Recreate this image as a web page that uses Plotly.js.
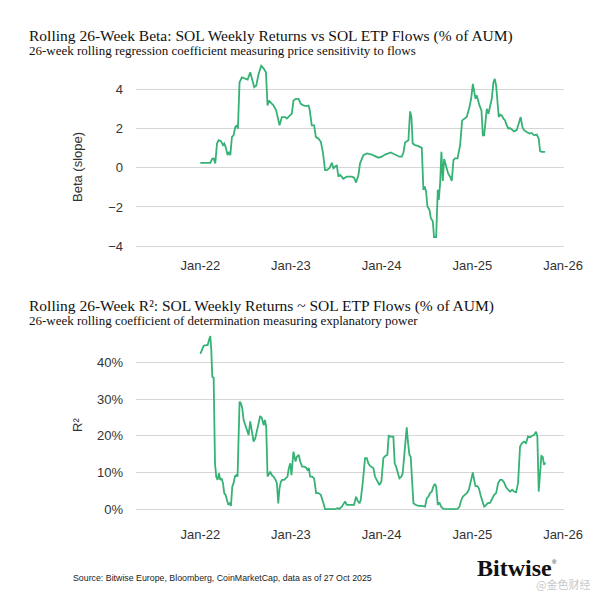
<!DOCTYPE html>
<html>
<head>
<meta charset="utf-8">
<script src="https://cdn.plot.ly/plotly-3.0.1.min.js"></script>
<style>
html,body{margin:0;padding:0;background:#fff;}
#chart{width:600px;height:600px;}
</style>
</head>
<body>
<div id="chart"></div>
<script>
// ---- Data ----
// Rolling 26-week beta: time as decimal year, value = beta (slope)
const betaYear = [2022.000,2022.110,2022.129,2022.147,2022.165,2022.184,2022.202,2022.228,2022.250,2022.264,2022.279,2022.301,2022.316,2022.331,2022.349,2022.367,2022.386,2022.404,2022.415,2022.433,2022.459,2022.496,2022.522,2022.551,2022.569,2022.595,2022.617,2022.643,2022.672,2022.698,2022.724,2022.742,2022.757,2022.771,2022.808,2022.837,2022.863,2022.874,2022.900,2022.937,2022.955,2022.973,2022.992,2023.010,2023.028,2023.054,2023.084,2023.109,2023.139,2023.168,2023.194,2023.205,2023.230,2023.256,2023.275,2023.304,2023.330,2023.352,2023.377,2023.396,2023.425,2023.451,2023.469,2023.491,2023.506,2023.524,2023.543,
2023.579,2023.616,2023.671,2023.697,2023.719,2023.745,2023.763,2023.800,2023.837,2023.892,2023.928,2023.965,2024.002,2024.039,2024.075,2024.101,2024.130,2024.167,2024.197,2024.222,2024.241,2024.259,2024.296,2024.314,2024.329,2024.343,2024.369,2024.406,2024.443,2024.461,2024.476,2024.490,2024.505,2024.527,2024.542,2024.564,2024.578,2024.601,2024.619,2024.630,2024.645,2024.659,2024.674,2024.689,2024.711,2024.733,2024.755,2024.773,2024.792,2024.810,2024.836,2024.865,2024.887,2024.909,2024.938,2024.968,2024.986,2025.005,2025.019,2025.034,2025.049,2025.063,2025.078,2025.100,2025.115,2025.129,2025.144,2025.159,2025.177,2025.196,2025.214,2025.232,2025.247,2025.262,2025.276,2025.291,2025.306,2025.324,2025.343,2025.361,2025.379,2025.398,2025.416,2025.434,2025.460,2025.489,2025.508,2025.533,2025.552,2025.570,2025.600,2025.629,2025.655,2025.680,2025.710,2025.732,2025.747,2025.765,2025.802];
const betaValue = [0.25,0.25,0.44,0.47,0.22,1.23,1.40,1.35,1.15,1.23,1.06,0.64,0.81,0.64,1.57,1.65,2.07,2.16,1.99,4.35,4.60,4.55,4.49,4.86,4.52,4.10,4.18,4.77,5.19,5.06,4.86,3.17,3.42,3.34,3.17,2.92,2.33,2.16,2.58,2.58,2.50,2.58,2.66,2.75,3.42,3.51,3.51,3.25,3.17,3.14,3.17,3.00,2.16,2.16,1.57,1.48,1.32,0.81,-0.12,-0.12,-0.03,0.25,-0.03,0.05,0.13,-0.46,-0.37,
-0.57,-0.46,-0.46,-0.51,-0.76,-0.37,0.22,0.64,0.73,0.67,0.59,0.51,0.56,0.67,0.73,0.78,0.71,0.64,0.56,0.56,0.76,1.28,1.40,2.87,2.58,1.23,1.15,1.10,1.01,-1.13,-0.96,-1.21,-1.97,-2.14,-2.56,-2.73,-3.54,-3.54,-1.13,-1.64,-0.79,0.81,-0.67,0.44,0.05,-0.29,-0.46,-0.67,0.39,0.47,0.47,1.15,2.41,2.50,2.58,3.09,3.51,4.27,3.84,3.51,3.68,3.42,3.17,2.92,1.65,1.65,2.33,3.00,2.75,3.17,3.51,4.35,4.52,4.18,3.17,2.58,2.70,2.66,2.50,2.41,2.16,1.99,2.02,1.96,1.85,1.91,2.24,2.58,2.07,1.91,1.82,1.74,1.77,1.65,1.69,1.48,0.84,0.81,0.81];

// Rolling 26-week R²: time as decimal year, value in percent
const r2Year = [2022.000,2022.022,2022.037,2022.066,2022.081,2022.096,2022.110,2022.121,2022.132,2022.147,2022.154,2022.162,2022.176,2022.191,2022.206,2022.220,2022.235,2022.250,2022.264,2022.279,2022.294,2022.309,2022.323,2022.338,2022.353,2022.367,2022.382,2022.397,2022.411,2022.426,2022.433,2022.448,2022.463,2022.478,2022.496,2022.514,2022.533,2022.551,2022.569,2022.588,2022.606,2022.624,2022.643,2022.661,2022.680,2022.698,2022.713,2022.727,2022.742,2022.757,2022.771,2022.790,2022.808,2022.830,2022.845,2022.860,2022.874,2022.889,2022.904,2022.926,2022.948,2022.962,2022.977,2022.992,2023.006,2023.028,2023.051,2023.065,2023.087,2023.102,2023.124,2023.146,2023.168,2023.183,2023.198,2023.212,2023.234,2023.256,2023.278,2023.304,2023.330,2023.344,2023.359,2023.377,2023.433,2023.488,2023.513,2023.535,2023.561,2023.579,2023.598,2023.616,2023.646,2023.671,2023.697,2023.719,2023.734,2023.756,2023.770,2023.792,2023.818,2023.837,2023.855,2023.873,2023.892,2023.910,2023.928,2023.947,2023.976,
2023.998,2024.020,2024.042,2024.064,2024.079,2024.101,2024.130,2024.145,2024.160,2024.174,2024.197,2024.219,2024.233,2024.255,2024.277,2024.292,2024.307,2024.321,2024.336,2024.351,2024.373,2024.406,2024.443,2024.479,2024.498,2024.516,2024.534,2024.553,2024.571,2024.586,2024.601,2024.619,2024.637,2024.656,2024.681,2024.736,2024.792,2024.836,2024.858,2024.872,2024.894,2024.916,2024.939,2024.961,2024.983,2025.005,2025.019,2025.034,2025.056,2025.071,2025.093,2025.115,2025.130,2025.144,2025.166,2025.196,2025.218,2025.240,2025.262,2025.284,2025.306,2025.328,2025.350,2025.372,2025.394,2025.416,2025.438,2025.460,2025.482,2025.504,2025.526,2025.548,2025.570,2025.592,2025.614,2025.636,2025.658,2025.680,2025.703,2025.717,2025.732,2025.747,2025.761,2025.776,2025.791,2025.805];
const r2Value = [42.3,43.4,44.5,44.7,44.7,46.1,47.2,43.4,36.1,35.8,26.1,12.5,8.8,8.0,9.8,8.0,8.4,7.1,4.4,3.9,2.5,1.2,1.6,0.9,6.2,7.1,8.9,9.3,8.9,22.5,29.3,28.8,27.5,24.3,22.9,21.6,20.2,23.9,20.7,18.4,19.3,21.1,23.4,25.4,24.8,22.9,24.3,22.5,8.9,9.8,10.2,9.3,8.9,8.0,7.1,1.6,5.7,7.5,8.0,8.0,8.4,8.9,11.2,12.5,9.3,15.7,13.0,14.3,14.8,13.0,11.6,11.6,11.3,10.7,11.2,8.9,8.9,8.4,4.4,4.4,3.9,3.0,1.6,0.0,0.0,0.0,0.3,0.1,0.7,1.6,2.1,1.2,1.2,1.4,1.2,3.4,2.4,1.6,2.5,7.1,13.9,13.9,12.5,11.8,11.4,11.2,8.9,8.0,6.6,
7.5,13.9,14.5,14.8,20.0,19.8,19.8,12.5,11.6,10.2,8.4,8.9,9.8,16.1,22.3,18.0,14.8,14.3,8.0,1.6,1.2,0.9,0.9,0.7,3.0,3.4,4.4,4.8,6.2,6.9,6.2,1.2,1.8,0.7,0.1,0.0,0.0,0.1,0.7,2.1,3.4,3.9,4.4,5.3,7.5,10.0,8.0,6.3,6.3,5.7,3.6,1.6,0.7,0.9,1.6,1.8,3.0,3.9,4.4,7.1,8.0,8.0,7.3,6.0,5.3,4.8,5.3,4.8,4.6,7.1,17.1,18.0,18.4,18.0,19.8,19.6,20.0,20.2,21.1,19.8,4.8,11.6,14.5,14.3,12.1,12.7];

const xTickYears = [2022, 2023, 2024, 2025, 2026];
const betaTicks = [-4, -2, 0, 2, 4];
const r2Ticks = [0, 10, 20, 30, 40];
const r2TickLabels = ['0%', '10%', '20%', '30%', '40%'];

const titleTop = "Rolling 26-Week Beta: SOL Weekly Returns vs SOL ETP Flows (% of AUM)";
const subTop = "26-week rolling regression coefficient measuring price sensitivity to flows";
const titleBottom = "Rolling 26-Week R²: SOL Weekly Returns ~ SOL ETP Flows (% of AUM)";
const subBottom = "26-week rolling coefficient of determination measuring explanatory power";
const sourceText = "Source: Bitwise Europe, Bloomberg, CoinMarketCap, data as of 27 Oct 2025";

// ---- helpers ----
function yearToDate(t) {
  const y = Math.floor(t);
  const a = Date.UTC(y, 0, 1), b = Date.UTC(y + 1, 0, 1);
  const d = new Date(a + (t - y) * (b - a));
  return d.toISOString().slice(0, 19).replace('T', ' ');
}
const betaX = betaYear.map(yearToDate);
const r2X = r2Year.map(yearToDate);
const tickDates = xTickYears.map(y => y + '-01-01');
const tickText = xTickYears.map(y => 'Jan-' + String(y).slice(2));

const green = '#35b274';
const gridCol = '#d6d6d6';
const tickFont = {family: 'Liberation Sans, Arial, sans-serif', size: 13, color: '#333'};
const xRange = ['2021-04-17', '2026-01-05'];

const xCommon = {
  type: 'date', range: xRange, tickvals: tickDates, ticktext: tickText,
  showgrid: false, zeroline: false, showline: false, ticks: '',
  tickfont: tickFont, domain: [0.2267, 0.94], fixedrange: true
};

const data = [
  {x: betaX, y: betaValue, type: 'scatter', mode: 'lines', xaxis: 'x', yaxis: 'y',
   line: {color: green, width: 1.8}, hoverinfo: 'skip'},
  {x: r2X, y: r2Value, type: 'scatter', mode: 'lines', xaxis: 'x2', yaxis: 'y2',
   line: {color: green, width: 1.8}, hoverinfo: 'skip'}
];

const serif = 'Liberation Serif, serif';
const sans = 'Liberation Sans, Arial, sans-serif';

const layout = {
  width: 600, height: 600,
  margin: {l: 0, r: 0, t: 0, b: 0},
  paper_bgcolor: '#fff', plot_bgcolor: '#fff',
  showlegend: false,
  xaxis: Object.assign({}, xCommon, {anchor: 'y'}),
  yaxis: {
    domain: [0.5733, 0.8972], range: [-4.5, 5.4], tickvals: betaTicks,
    showgrid: true, gridcolor: gridCol, gridwidth: 1, zeroline: false,
    ticks: '', tickfont: tickFont, ticklabelstandoff: 12, anchor: 'x', fixedrange: true
  },
  xaxis2: Object.assign({}, xCommon, {anchor: 'y2'}),
  yaxis2: {
    domain: [0.125, 0.445], range: [-4.3, 48], tickvals: r2Ticks, ticktext: r2TickLabels,
    showgrid: true, gridcolor: gridCol, gridwidth: 1, zeroline: false,
    ticks: '', tickfont: tickFont, ticklabelstandoff: 12, anchor: 'x2', fixedrange: true
  },
  annotations: [
    {text: titleTop, x: 27/600, y: 1 - 36/600, xref: 'paper', yref: 'paper', xanchor: 'left', yanchor: 'middle', showarrow: false,
     font: {family: serif, size: 15.5, color: '#111'}},
    {text: subTop, x: 27/600, y: 1 - 50/600, xref: 'paper', yref: 'paper', xanchor: 'left', yanchor: 'middle', showarrow: false,
     font: {family: serif, size: 13, color: '#111'}},
    {text: titleBottom, x: 27/600, y: 1 - 306/600, xref: 'paper', yref: 'paper', xanchor: 'left', yanchor: 'middle', showarrow: false,
     font: {family: serif, size: 15.5, color: '#111'}},
    {text: subBottom, x: 27/600, y: 1 - 320/600, xref: 'paper', yref: 'paper', xanchor: 'left', yanchor: 'middle', showarrow: false,
     font: {family: serif, size: 13, color: '#111'}},
    {text: 'Beta (slope)', x: 77/600, y: 1 - 167/600, xref: 'paper', yref: 'paper', textangle: -90, showarrow: false,
     xanchor: 'center', yanchor: 'middle', font: {family: sans, size: 13, color: '#333'}},
    {text: 'R²', x: 77/600, y: 1 - 425/600, xref: 'paper', yref: 'paper', textangle: -90, showarrow: false,
     xanchor: 'center', yanchor: 'middle', font: {family: sans, size: 13, color: '#333'}},
    {text: sourceText, x: 71/600, y: 1 - 578/600, xref: 'paper', yref: 'paper', xanchor: 'left', yanchor: 'middle', showarrow: false,
     font: {family: sans, size: 8.8, color: '#222'}},
    {text: '<b>Bitwise</b>', x: 475/600, y: 1 - 568/600, xref: 'paper', yref: 'paper', xanchor: 'left', yanchor: 'middle', showarrow: false,
     font: {family: serif, size: 24, color: '#111'}},
    {text: '®', x: 550/600, y: 1 - 562/600, xref: 'paper', yref: 'paper', xanchor: 'left', yanchor: 'middle', showarrow: false,
     font: {family: sans, size: 6, color: '#111'}},
    {text: '@金色财经', x: 592/600, y: 1 - 584/600, xref: 'paper', yref: 'paper', xanchor: 'right', yanchor: 'middle', showarrow: false,
     font: {family: 'Noto Sans CJK SC, sans-serif', size: 11, color: '#c8c8c8'}}
  ]
};

Plotly.newPlot('chart', data, layout, {staticPlot: true, displayModeBar: false});
</script>
</body>
</html>
